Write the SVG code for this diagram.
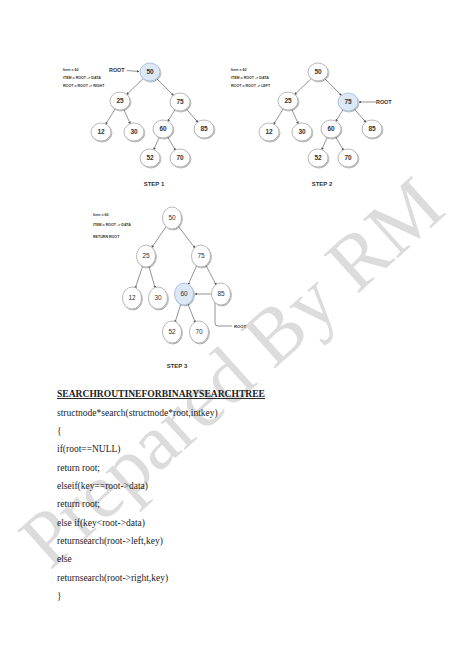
<svg xmlns="http://www.w3.org/2000/svg" width="474" height="670" viewBox="0 0 474 670">
<defs>
<marker id="ah" viewBox="0 0 6 6" refX="5" refY="3" markerWidth="4" markerHeight="4" orient="auto"><path d="M0,0 L6,3 L0,6 z" fill="#555"/></marker>
<filter id="sh" x="-30%" y="-30%" width="160%" height="160%"><feDropShadow dx="0.8" dy="1" stdDeviation="0.7" flood-color="#000" flood-opacity="0.35"/></filter>
</defs>
<style>
.bg{fill:#fff}
.wm{font-family:"Liberation Serif",serif;font-size:79px;fill:#dcdcdc}
.n{fill:#fff;stroke:#a8a8a8;stroke-width:0.8;filter:url(#sh)}
.hl{fill:#dce8f6;stroke:#9fb8d6;stroke-width:0.8;filter:url(#sh)}
.nt{font-family:"Liberation Sans",Arial,sans-serif;font-weight:bold;font-size:6.5px;fill:#333;text-anchor:middle}
.nt3{font-family:"Liberation Sans",Arial,sans-serif;font-size:6.5px;fill:#333;text-anchor:middle}
.e{stroke:#666;stroke-width:0.7;fill:none;marker-end:url(#ah)}
.lb{font-family:"Liberation Sans",Arial,sans-serif;font-weight:bold;font-size:3.6px;fill:#333}
.rt{font-family:"Liberation Sans",Arial,sans-serif;font-weight:bold;font-size:5.4px;fill:#333}
.st{font-family:"Liberation Sans",Arial,sans-serif;font-weight:bold;font-size:6px;fill:#333;text-anchor:middle}
.code{font-family:"Liberation Serif",serif;font-size:9.5px;fill:#222}
.hd{font-family:"Liberation Serif",serif;font-size:9.5px;font-weight:bold;fill:#222;text-decoration:underline}
</style>
<rect class="bg" x="0" y="0" width="474" height="670"/>
<text class="wm" x="50" y="571" transform="rotate(-42 50 571)">Prepared By RM</text>

<!-- STEP 1 -->
<g id="step1-labels">
<text class="lb" x="63" y="71">Item = 60</text>
<text class="lb" x="63" y="79">ITEM = ROOT -&gt; DATA</text>
<text class="lb" x="63" y="87">ROOT = ROOT -&gt; RIGHT</text>
<text class="rt" x="109" y="72">ROOT</text>
<text class="st" x="154" y="186">STEP 1</text>
</g>
<g id="step1-connectors">
<line class="e" x1="127" y1="70.5" x2="139" y2="71.5"/>
<line class="e" x1="143.5" y1="78.3" x2="126.5" y2="94.7"/>
<line class="e" x1="156.4" y1="78.4" x2="173.6" y2="95.6"/>
<line class="e" x1="115.3" y1="108.7" x2="105.7" y2="124.3"/>
<line class="e" x1="123.7" y1="109.2" x2="130.3" y2="123.8"/>
<line class="e" x1="175.2" y1="109.6" x2="167.8" y2="121.4"/>
<line class="e" x1="186" y1="108.7" x2="198" y2="122.3"/>
<line class="e" x1="159.3" y1="137.2" x2="153.7" y2="149.8"/>
<line class="e" x1="167.6" y1="136.8" x2="175.4" y2="150.2"/>
</g>
<g id="s1-n50"><ellipse class="hl" cx="150" cy="72" rx="10" ry="9"/><text class="nt" x="150" y="74.4">50</text></g>
<g id="s1-n25"><ellipse class="n" cx="120" cy="101" rx="10" ry="9"/><text class="nt" x="120" y="103.4">25</text></g>
<g id="s1-n75"><ellipse class="n" cx="180" cy="102" rx="10" ry="9"/><text class="nt" x="180" y="104.4">75</text></g>
<g id="s1-n12"><ellipse class="n" cx="101" cy="132" rx="10" ry="9"/><text class="nt" x="101" y="134.4">12</text></g>
<g id="s1-n30"><ellipse class="n" cx="134" cy="132" rx="10" ry="9"/><text class="nt" x="134" y="134.4">30</text></g>
<g id="s1-n60"><ellipse class="n" cx="163" cy="129" rx="10" ry="9"/><text class="nt" x="163" y="131.4">60</text></g>
<g id="s1-n85"><ellipse class="n" cx="204" cy="129" rx="10" ry="9"/><text class="nt" x="204" y="131.4">85</text></g>
<g id="s1-n52"><ellipse class="n" cx="150" cy="158" rx="10" ry="9"/><text class="nt" x="150" y="160.4">52</text></g>
<g id="s1-n70"><ellipse class="n" cx="180" cy="158" rx="10" ry="9"/><text class="nt" x="180" y="160.4">70</text></g>

<!-- STEP 2 -->
<g id="step2-labels">
<text class="lb" x="231" y="71">Item = 60</text>
<text class="lb" x="231" y="79">ITEM = ROOT -&gt; DATA</text>
<text class="lb" x="231" y="87">ROOT = ROOT -&gt; LEFT</text>
<text class="rt" x="376" y="104">ROOT</text>
<text class="st" x="322" y="186">STEP 2</text>
</g>
<g id="step2-connectors" transform="translate(168 0)">
<line class="e" x1="208" y1="102" x2="191" y2="102"/>
<line class="e" x1="143.5" y1="78.3" x2="126.5" y2="94.7"/>
<line class="e" x1="156.4" y1="78.4" x2="173.6" y2="95.6"/>
<line class="e" x1="115.3" y1="108.7" x2="105.7" y2="124.3"/>
<line class="e" x1="123.7" y1="109.2" x2="130.3" y2="123.8"/>
<line class="e" x1="175.2" y1="109.6" x2="167.8" y2="121.4"/>
<line class="e" x1="186" y1="108.7" x2="198" y2="122.3"/>
<line class="e" x1="159.3" y1="137.2" x2="153.7" y2="149.8"/>
<line class="e" x1="167.6" y1="136.8" x2="175.4" y2="150.2"/>
</g>
<g transform="translate(168 0)">
<g id="s2-n50"><ellipse class="n" cx="150" cy="72" rx="10" ry="9"/><text class="nt" x="150" y="74.4">50</text></g>
<g id="s2-n25"><ellipse class="n" cx="120" cy="101" rx="10" ry="9"/><text class="nt" x="120" y="103.4">25</text></g>
<g id="s2-n75"><ellipse class="hl" cx="180" cy="102" rx="10" ry="9"/><text class="nt" x="180" y="104.4">75</text></g>
<g id="s2-n12"><ellipse class="n" cx="101" cy="132" rx="10" ry="9"/><text class="nt" x="101" y="134.4">12</text></g>
<g id="s2-n30"><ellipse class="n" cx="134" cy="132" rx="10" ry="9"/><text class="nt" x="134" y="134.4">30</text></g>
<g id="s2-n60"><ellipse class="n" cx="163" cy="129" rx="10" ry="9"/><text class="nt" x="163" y="131.4">60</text></g>
<g id="s2-n85"><ellipse class="n" cx="204" cy="129" rx="10" ry="9"/><text class="nt" x="204" y="131.4">85</text></g>
<g id="s2-n52"><ellipse class="n" cx="150" cy="158" rx="10" ry="9"/><text class="nt" x="150" y="160.4">52</text></g>
<g id="s2-n70"><ellipse class="n" cx="180" cy="158" rx="10" ry="9"/><text class="nt" x="180" y="160.4">70</text></g>
</g>

<!-- STEP 3 -->
<g id="step3-labels">
<text class="lb" x="93" y="216">Item = 60</text>
<text class="lb" x="93" y="226">ITEM = ROOT -&gt; DATA</text>
<text class="lb" x="93" y="238">RETURN ROOT</text>
<text class="lb" x="234" y="327.5" style="font-size:4.2px">ROOT</text>
<text class="st" x="177" y="368">STEP 3</text>
</g>
<g id="step3-connectors">
<path class="e" d="M232,326 H218 Q215,326 215,323 V297 Q215,294 212,294 H195"/>
<line class="e" x1="166.3" y1="226.3" x2="151.7" y2="247.7"/>
<line class="e" x1="178.1" y1="226" x2="194.9" y2="248"/>
<line class="e" x1="142.8" y1="265.5" x2="135.2" y2="288.5"/>
<line class="e" x1="148.7" y1="265.6" x2="155.3" y2="288.4"/>
<line class="e" x1="196.9" y1="265.1" x2="188.1" y2="284.9"/>
<line class="e" x1="205.7" y1="264.9" x2="216.3" y2="285.1"/>
<line class="e" x1="181" y1="303.5" x2="175" y2="322.5"/>
<line class="e" x1="187.7" y1="303.3" x2="195.3" y2="322.7"/>
</g>
<g id="s3-n50"><ellipse class="n" cx="172" cy="218" rx="9.5" ry="11"/><text class="nt3" x="172" y="220.4">50</text></g>
<g id="s3-n25"><ellipse class="n" cx="146" cy="256" rx="9.5" ry="11"/><text class="nt3" x="146" y="258.4">25</text></g>
<g id="s3-n75"><ellipse class="n" cx="201" cy="256" rx="9.5" ry="11"/><text class="nt3" x="201" y="258.4">75</text></g>
<g id="s3-n12"><ellipse class="n" cx="132" cy="298" rx="9.5" ry="11"/><text class="nt3" x="132" y="300.4">12</text></g>
<g id="s3-n30"><ellipse class="n" cx="158" cy="298" rx="9.5" ry="11"/><text class="nt3" x="158" y="300.4">30</text></g>
<g id="s3-n60"><ellipse class="hl" cx="184" cy="294" rx="9.5" ry="11"/><text class="nt3" x="184" y="296.4">60</text></g>
<g id="s3-n85"><ellipse class="n" cx="221" cy="294" rx="9.5" ry="11"/><text class="nt3" x="221" y="296.4">85</text></g>
<g id="s3-n52"><ellipse class="n" cx="172" cy="332" rx="9.5" ry="11"/><text class="nt3" x="172" y="334.4">52</text></g>
<g id="s3-n70"><ellipse class="n" cx="199" cy="332" rx="9.5" ry="11"/><text class="nt3" x="199" y="334.4">70</text></g>

<!-- CODE -->
<g id="code">
<text class="hd" x="57" y="397" textLength="208" lengthAdjust="spacingAndGlyphs">SEARCHROUTINEFORBINARYSEARCHTREE</text>
<text class="code" x="57" y="416">structnode*search(structnode*root,intkey)</text>
<text class="code" x="57" y="434">{</text>
<text class="code" x="57" y="452">if(root==NULL)</text>
<text class="code" x="57" y="471">return root;</text>
<text class="code" x="57" y="489">elseif(key==root-&gt;data)</text>
<text class="code" x="57" y="507">return root;</text>
<text class="code" x="57" y="526">else if(key&lt;root-&gt;data)</text>
<text class="code" x="57" y="544">returnsearch(root-&gt;left,key)</text>
<text class="code" x="57" y="562">else</text>
<text class="code" x="57" y="581">returnsearch(root-&gt;right,key)</text>
<text class="code" x="57" y="599">}</text>
</g>
</svg>
